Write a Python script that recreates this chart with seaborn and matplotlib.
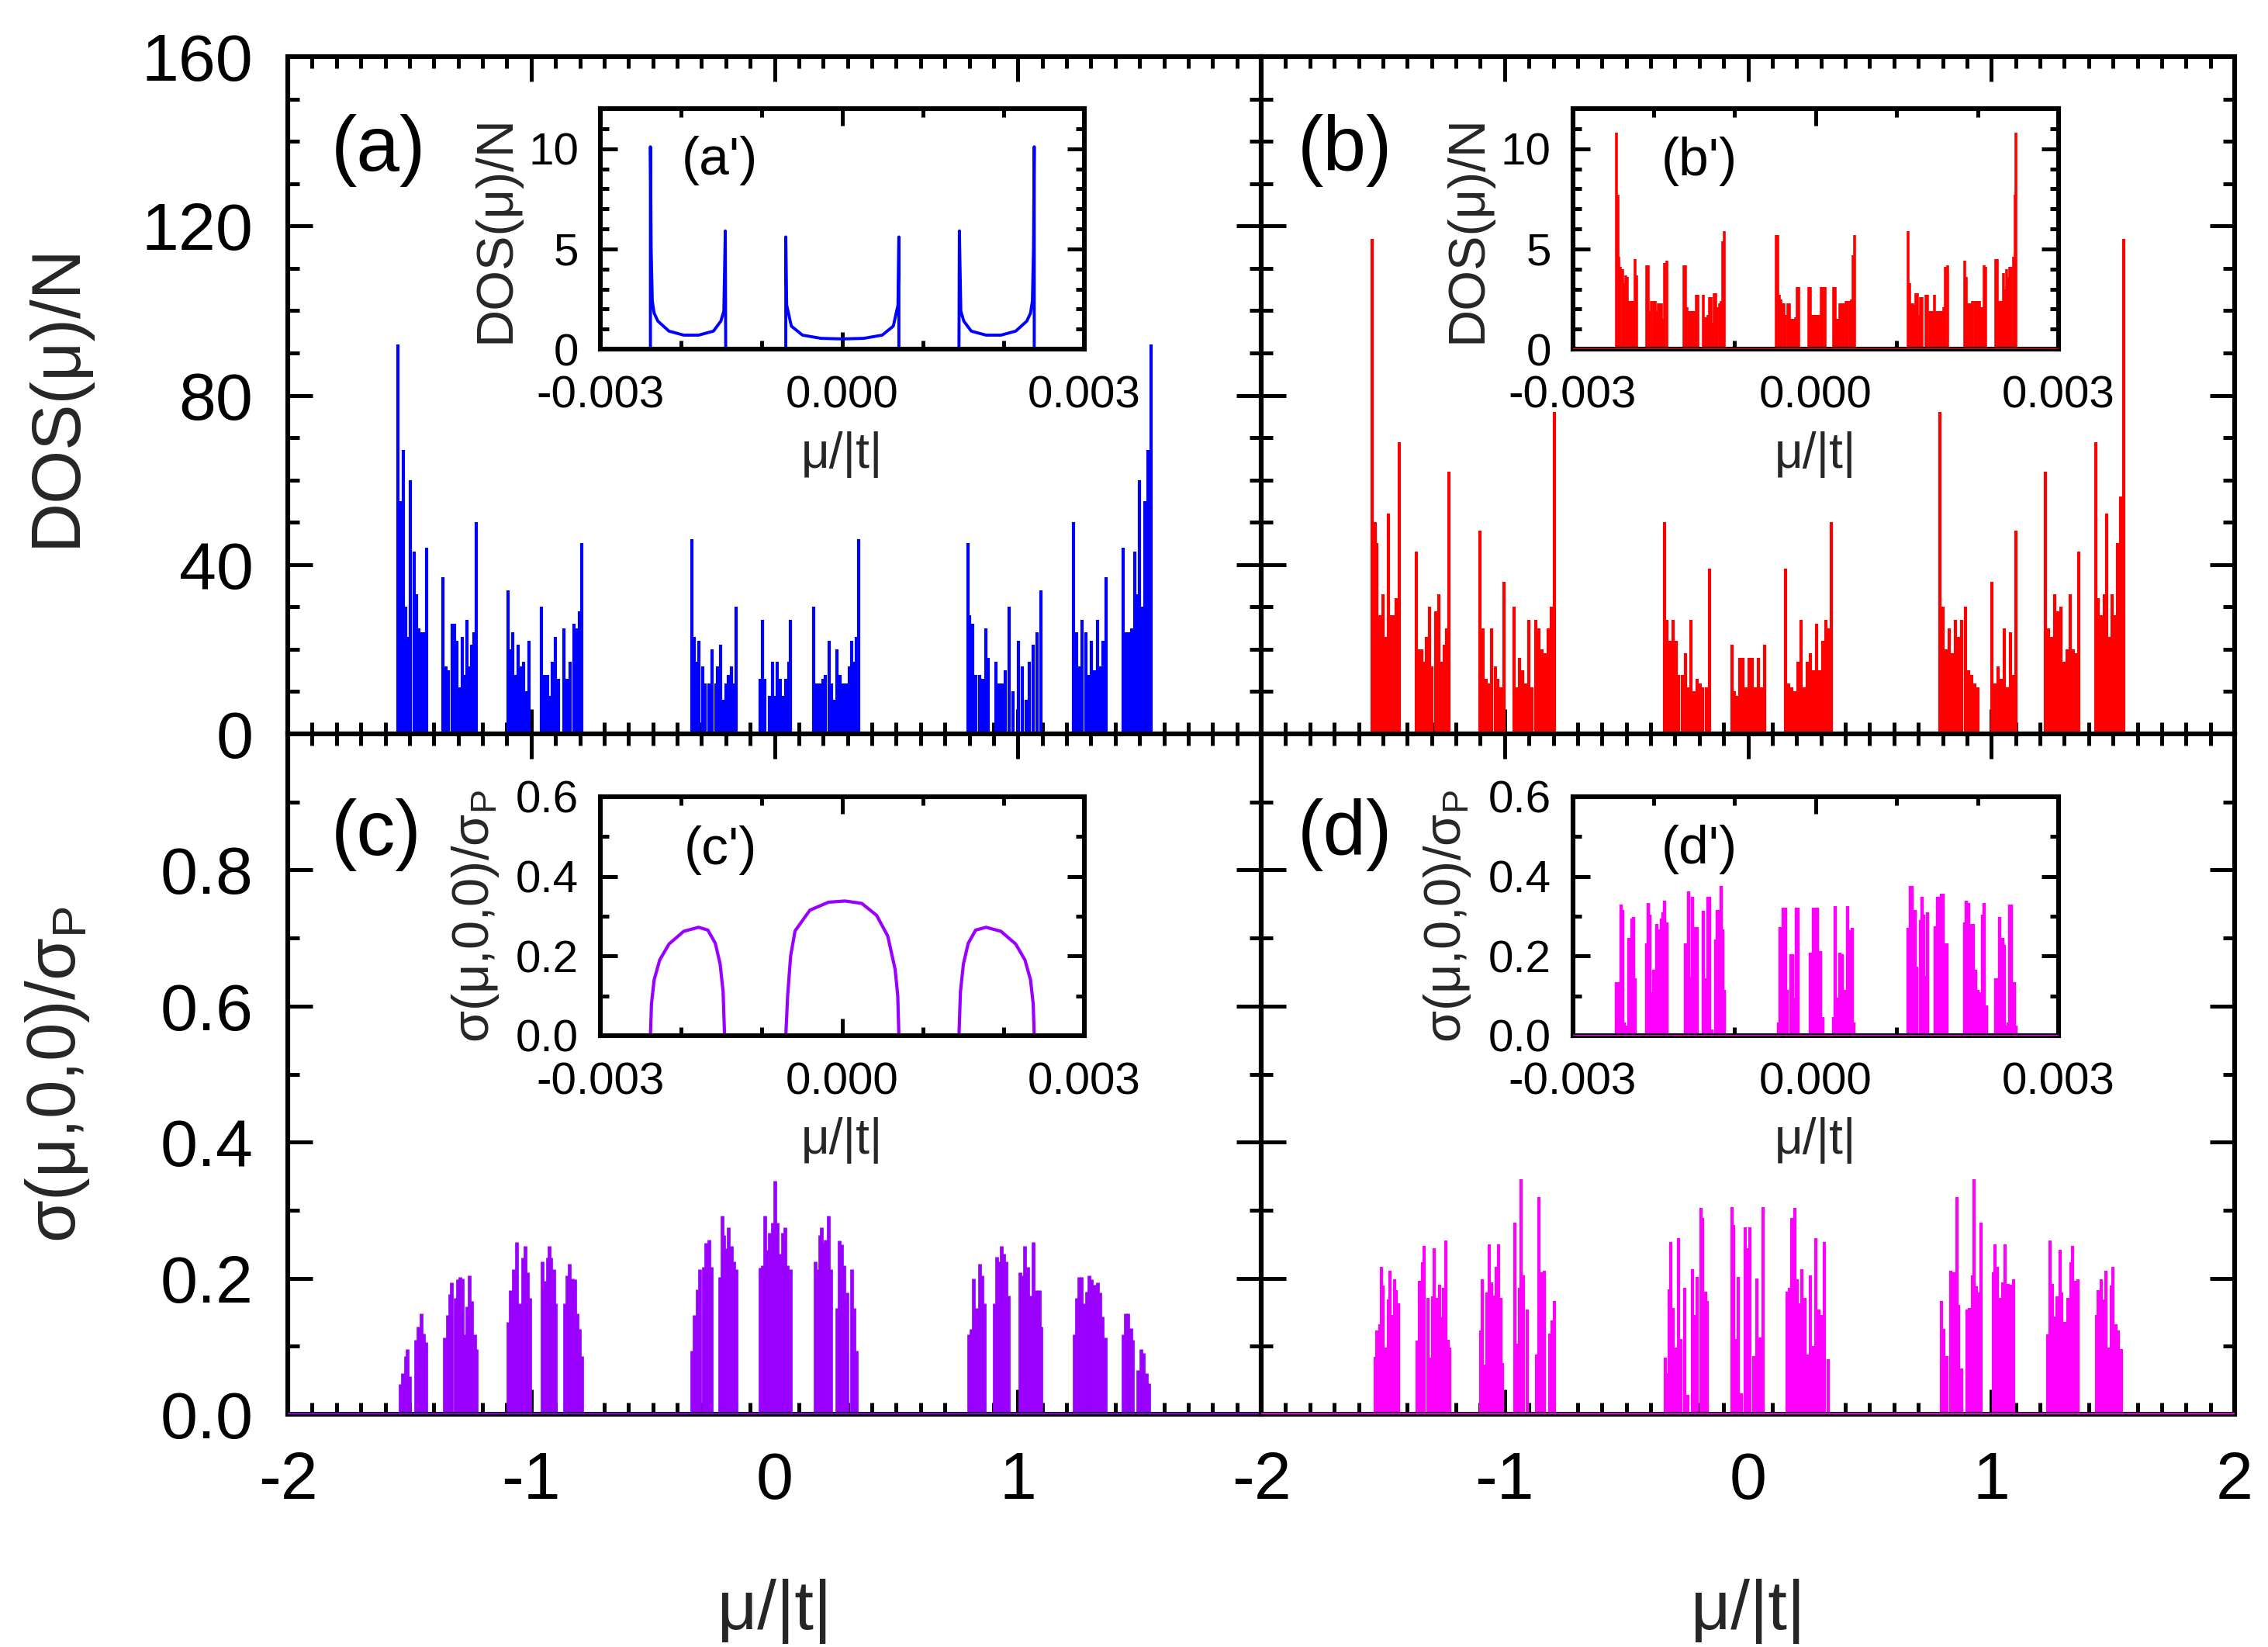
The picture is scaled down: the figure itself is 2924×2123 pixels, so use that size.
import numpy as np
import pandas as pd
import matplotlib
matplotlib.use("Agg")
import matplotlib.pyplot as plt
import seaborn as sns
from matplotlib.ticker import MultipleLocator, FixedLocator

# ---------------- data ----------------
# (a) DOS(mu)/N spikes, main panel
a_mu = [-1.546,-1.537,-1.524,-1.516,-1.508,-1.495,-1.482,-1.470,-1.461,-1.453,-1.440,-1.430,
        -1.362,-1.351,-1.339,-1.326,-1.316,-1.305,-1.297,-1.284,-1.275,-1.265,-1.254,-1.246,-1.235,-1.225,
        -1.096,-1.086,-1.077,-1.064,-1.052,-1.041,-1.031,-1.018,-1.008,
        -0.957,-0.946,-0.934,-0.923,-0.913,-0.900,-0.887,-0.864,-0.853,-0.841,-0.824,-0.811,-0.803,-0.792,
        -0.339,-0.330,-0.322,-0.311,-0.296,-0.286,-0.271,-0.256,-0.242,-0.233,-0.223,-0.212,-0.199,-0.191,-0.176,-0.166,-0.157,
        -0.060,-0.050,-0.039,-0.022,-0.009,-0.001,0.012,0.024,0.035,0.047,0.058,0.066,
        0.161,0.172,0.185,0.199,0.210,0.223,0.235,0.246,0.258,0.269,0.282,0.294,0.307,0.318,0.328,0.337,0.345,
        0.794,0.801,0.813,0.826,0.843,0.856,0.868,0.879,
        0.910,0.923,0.936,0.948,0.963,0.980,1.003,1.018,1.033,1.046,1.062,1.079,1.096,
        1.229,1.240,1.252,1.265,1.278,1.290,1.303,1.316,1.328,1.341,1.351,1.362,
        1.434,1.444,1.455,1.468,1.480,1.491,1.501,1.512,1.522,1.533,1.546]
a_dos = [92,55,67,30,23,60,43,33,25,24,24,44,
         37,16,15,26,26,22,11,23,14,27,16,21,24,50,
         34,20,24,14,21,16,17,10,22,
         30,14,14,9,17,23,13,25,13,17,26,25,29,45,
         46,23,17,22,16,12,12,20,12,16,21,8,12,14,16,12,30,
         13,27,13,9,17,9,17,13,9,13,17,27,
         30,12,12,13,14,22,12,8,20,14,12,12,16,22,17,23,46,
         45,28,26,14,14,13,25,18,
         17,12,12,15,30,10,22,16,8,17,21,24,34,
         50,24,16,27,24,14,22,15,27,16,22,37,
         44,24,24,25,43,33,60,30,55,67,92]

# (b) DOS(mu)/N spikes, main panel
b_mu = [-1.543,-1.533,-1.524,-1.512,-1.499,-1.489,-1.478,-1.467,-1.457,-1.444,-1.434,
        -1.362,-1.351,-1.341,-1.330,-1.320,-1.309,-1.299,-1.284,-1.271,-1.259,-1.248,-1.238,-1.229,
        -1.100,-1.090,-1.077,-1.064,-1.052,-1.039,-1.027,-1.016,-1.003,
        -0.961,-0.951,-0.938,-0.925,-0.913,-0.900,-0.887,-0.872,-0.860,-0.845,-0.835,-0.820,-0.807,-0.794,
        -0.343,-0.332,-0.320,-0.309,-0.296,-0.284,-0.271,-0.258,-0.246,-0.235,-0.223,-0.210,-0.197,-0.187,-0.172,-0.159,
        -0.066,-0.056,-0.045,-0.033,-0.020,-0.007,0.005,0.018,0.031,0.043,0.056,0.069,
        0.155,0.168,0.180,0.193,0.206,0.218,0.231,0.244,0.256,0.269,0.282,0.294,0.307,0.320,0.332,0.341,
        0.790,0.801,0.813,0.826,0.839,0.851,0.864,0.879,0.894,0.906,0.919,0.932,0.944,
        1.003,1.016,1.029,1.041,1.054,1.067,1.079,1.092,1.100,
        1.223,1.235,1.248,1.261,1.273,1.286,1.299,1.311,1.324,1.337,1.349,1.358,
        1.430,1.438,1.451,1.463,1.474,1.484,1.495,1.505,1.518,1.531,1.543]
b_dos = [117,50,45,28,33,23,52,28,28,32,69,
         43,20,20,17,23,30,16,29,33,17,21,25,62,
         48,25,13,12,25,16,13,11,36,
         30,11,18,15,12,27,11,27,25,20,19,25,30,76,
         50,27,22,27,22,14,14,19,11,27,10,13,12,11,11,39,
         21,10,9,18,18,11,18,18,11,18,11,21,
         39,12,11,10,17,27,11,17,19,15,26,15,22,27,25,50,
         76,30,20,25,19,27,23,27,30,15,14,12,11,
         36,12,16,13,25,11,24,14,48,
         62,25,23,33,29,30,17,20,33,20,19,43,
         69,32,28,33,52,23,33,28,45,56,117]

# (c) sigma(mu,0,0)/sigma_P spikes, main panel
c_mu = [-1.537,-1.527,-1.516,-1.508,-1.499,-1.474,-1.465,-1.453,-1.442,-1.432,
        -1.356,-1.345,-1.335,-1.328,-1.313,-1.303,-1.292,-1.284,-1.273,-1.265,-1.254,-1.244,-1.233,-1.225,
        -1.094,-1.086,-1.073,-1.060,-1.048,-1.035,-1.024,-1.014,-1.005,
        -0.955,-0.944,-0.934,-0.927,-0.919,-0.908,-0.900,
        -0.862,-0.853,-0.843,-0.832,-0.822,-0.811,-0.801,-0.792,
        -0.339,-0.330,-0.318,-0.309,-0.292,-0.282,-0.271,-0.261,-0.225,-0.216,-0.208,-0.199,-0.189,-0.178,-0.168,-0.159,
        -0.060,-0.050,-0.039,-0.031,-0.022,-0.009,0.001,0.012,0.024,0.033,0.043,0.054,0.064,
        0.166,0.174,0.185,0.193,0.202,0.210,0.220,0.231,0.258,0.265,0.275,0.286,0.299,0.318,0.328,0.337,
        0.799,0.807,0.818,0.830,0.843,0.853,0.862,
        0.904,0.913,0.923,0.932,0.942,0.951,0.961,
        1.008,1.018,1.029,1.039,1.052,1.062,1.075,1.088,1.096,
        1.231,1.240,1.250,1.261,1.273,1.282,1.292,1.303,1.316,1.328,1.337,1.345,1.358,
        1.434,1.442,1.453,1.463,1.472,1.493,1.505,1.516,1.527,1.539]
c_sig = [0.044,0.060,0.086,0.096,0.056,0.109,0.129,0.148,0.119,0.106,
         0.113,0.146,0.177,0.194,0.171,0.198,0.202,0.200,0.117,0.159,0.204,0.167,0.117,0.096,
         0.136,0.182,0.213,0.253,0.163,0.230,0.248,0.209,0.171,
         0.225,0.196,0.230,0.248,0.230,0.213,0.163,
         0.163,0.204,0.221,0.200,0.198,0.148,0.125,0.086,
         0.094,0.146,0.184,0.213,0.217,0.252,0.257,0.217,0.202,0.292,0.263,0.244,0.275,0.248,0.225,0.213,
         0.215,0.219,0.292,0.242,0.267,0.282,0.343,0.282,0.236,0.267,0.275,0.219,0.213,
         0.225,0.213,0.263,0.275,0.252,0.257,0.292,0.213,0.156,0.255,0.250,0.219,0.179,0.213,0.156,0.094,
         0.117,0.125,0.200,0.156,0.221,0.204,0.163,
         0.163,0.232,0.225,0.248,0.236,0.225,0.175,
         0.209,0.204,0.248,0.217,0.175,0.253,0.182,0.182,0.129,
         0.117,0.171,0.202,0.202,0.163,0.180,0.204,0.198,0.190,0.194,0.179,0.144,0.113,
         0.117,0.148,0.148,0.127,0.109,0.065,0.096,0.090,0.060,0.046]

# (d) sigma(mu,0,0)/sigma_P spikes, main panel
d_mu = [-1.533,-1.524,-1.514,-1.505,-1.499,-1.487,-1.478,-1.470,-1.461,-1.453,-1.444,-1.436,
        -1.358,-1.351,-1.343,-1.337,-1.330,-1.316,-1.305,-1.297,-1.288,-1.278,-1.267,-1.259,-1.250,-1.242,-1.233,-1.227,
        -1.098,-1.092,-1.081,-1.073,-1.062,-1.054,-1.043,-1.033,-1.024,-1.016,-1.008,
        -0.957,-0.948,-0.940,-0.932,-0.923,-0.908,-0.870,-0.860,-0.851,-0.843,-0.837,-0.816,-0.805,-0.794,
        -0.341,-0.332,-0.324,-0.318,-0.307,-0.296,-0.286,-0.275,-0.261,-0.246,-0.227,-0.216,-0.208,-0.193,-0.185,-0.174,-0.166,
        -0.066,-0.060,-0.052,-0.041,-0.028,-0.012,-0.001,0.009,0.024,0.037,0.050,0.062,
        0.161,0.170,0.180,0.193,0.202,0.210,0.220,0.233,0.246,0.258,0.269,0.280,0.290,0.305,0.315,0.330,
        0.794,0.805,0.818,0.834,0.845,0.858,0.866,0.879,0.900,0.910,0.923,0.929,0.938,0.948,0.957,
        1.010,1.016,1.024,1.037,1.048,1.058,1.069,1.079,1.090,
        1.231,1.242,1.252,1.261,1.271,1.282,1.290,1.303,1.316,1.326,1.335,1.345,1.356,
        1.432,1.438,1.451,1.459,1.470,1.480,1.493,1.501,1.512,1.522,1.535]
d_sig = [0.084,0.123,0.132,0.217,0.189,0.098,0.169,0.211,0.146,0.198,0.182,0.163,
         0.108,0.196,0.138,0.223,0.248,0.171,0.083,0.173,0.244,0.171,0.190,0.142,0.186,0.255,0.109,0.098,
         0.123,0.198,0.073,0.179,0.250,0.194,0.175,0.217,0.250,0.171,0.075,
         0.282,0.104,0.186,0.346,0.204,0.154,0.088,0.319,0.209,0.088,0.211,0.119,0.138,0.167,
         0.083,0.061,0.184,0.253,0.156,0.098,0.259,0.111,0.186,0.029,0.213,0.146,0.202,0.303,0.288,0.180,0.167,
         0.305,0.278,0.111,0.202,0.031,0.275,0.244,0.275,0.086,0.200,0.113,0.305,
         0.180,0.186,0.288,0.303,0.198,0.163,0.213,0.171,0.088,0.204,0.100,0.259,0.154,0.146,0.253,0.081,
         0.167,0.125,0.086,0.211,0.209,0.319,0.161,0.067,0.154,0.156,0.204,0.346,0.188,0.179,0.282,
         0.209,0.250,0.217,0.171,0.194,0.250,0.192,0.190,0.198,
         0.117,0.255,0.192,0.144,0.173,0.242,0.179,0.136,0.171,0.223,0.248,0.196,0.198,
         0.146,0.182,0.198,0.169,0.211,0.098,0.189,0.217,0.132,0.123,0.096]

# insets: mu in units of 1e-3
ap_mu_e3 = [-3.0,-2.379,-2.379,-2.370,-2.356,-2.333,-2.287,-2.149,-1.966,-1.782,-1.598,-1.506,-1.469,-1.451,-1.446,
            -0.701,-0.701,-0.690,-0.632,-0.494,-0.264,0.0,0.264,0.494,0.632,0.690,0.701,0.701,
            1.446,1.451,1.469,1.506,1.598,1.782,1.966,2.149,2.287,2.333,2.356,2.370,2.379,2.379,3.0]
ap_dos = [0,0,10.1,5.0,2.4,1.8,1.4,0.9,0.7,0.7,0.9,1.4,1.9,5.9,0,
          0,5.6,2.2,1.15,0.7,0.54,0.51,0.54,0.7,1.15,2.2,5.6,0,
          0,5.9,1.9,1.4,0.9,0.7,0.7,0.9,1.4,1.8,2.4,5.0,10.1,0,0]

bp_mu_e3 = [-2.463,-2.443,-2.427,-2.407,-2.383,-2.367,-2.347,-2.327,-2.307,-2.287,-2.267,-2.248,-2.228,-2.208,
            -2.088,-2.068,-2.044,-2.024,-2.004,-1.984,-1.964,-1.944,-1.924,-1.904,-1.884,-1.864,-1.836,
            -1.629,-1.609,-1.589,-1.569,-1.549,-1.529,-1.509,-1.489,-1.469,-1.449,
            -1.389,-1.369,-1.349,-1.329,-1.309,-1.289,-1.269,-1.250,-1.230,-1.210,-1.190,-1.170,-1.150,-1.130,
            -0.487,-0.467,-0.447,-0.427,-0.407,-0.387,-0.367,-0.347,-0.327,-0.307,-0.287,-0.267,-0.248,-0.228,-0.208,
            -0.088,-0.068,-0.048,-0.028,-0.008,0.012,0.032,0.052,0.072,0.092,0.112,
            0.220,0.240,0.259,0.279,0.299,0.319,0.339,0.359,0.379,0.399,0.419,0.439,0.459,0.479,
            1.142,1.158,1.178,1.198,1.218,1.238,1.257,1.277,1.297,1.317,
            1.365,1.385,1.405,1.425,1.445,1.465,1.485,1.505,1.525,1.545,1.565,1.585,1.605,1.625,
            1.840,1.860,1.880,1.900,1.920,1.940,1.960,1.980,2.000,2.020,2.040,2.060,2.080,2.100,
            2.220,2.240,2.259,2.279,2.299,2.319,2.339,2.359,2.379,2.399,2.419,2.439,2.459,2.475]
bp_dos = [10.8,7.7,4.6,4.1,4.0,3.3,3.7,3.6,2.4,2.4,2.4,2.4,4.5,3.7,
          4.2,4.2,1.9,2.4,2.4,2.4,1.9,2.3,2.3,2.3,1.5,4.3,4.4,
          4.2,4.2,2.1,1.9,1.9,1.9,1.9,1.9,2.7,2.7,
          2.7,1.6,1.6,1.7,2.6,2.6,1.3,2.8,2.8,2.1,2.3,2.4,5.4,5.9,
          5.7,5.7,2.7,2.5,2.3,2.3,1.7,2.3,2.3,1.5,1.5,1.5,1.6,3.1,3.1,
          3.1,3.1,1.7,1.7,1.7,1.7,1.7,1.7,3.1,3.1,3.1,
          3.1,3.1,1.5,1.5,2.3,2.3,2.3,2.3,2.4,2.4,2.4,2.5,4.7,5.7,
          5.9,3.3,2.3,2.3,2.2,2.8,2.8,1.7,2.6,2.6,
          2.7,2.7,1.9,1.9,1.9,2.7,1.9,1.9,1.9,1.9,1.9,2.1,4.1,4.2,
          4.4,3.6,2.3,2.3,2.3,2.4,2.4,2.4,2.4,2.4,2.1,2.1,4.2,4.1,
          4.5,4.5,2.4,2.4,2.4,3.8,3.0,4.0,3.6,4.1,4.1,4.6,7.7,10.8]

cp_mu_e3 = [-3.0,-2.379,-2.366,-2.333,-2.264,-2.149,-1.966,-1.782,-1.667,-1.575,-1.515,-1.478,-1.460,
            -0.701,-0.678,-0.641,-0.586,-0.402,-0.172,0.034,0.241,0.425,0.563,0.655,0.687,0.701,
            1.446,1.464,1.501,1.561,1.653,1.782,1.966,2.149,2.264,2.333,2.366,2.379,3.0]
cp_sig = [0,0,0.08,0.14,0.19,0.23,0.262,0.272,0.265,0.232,0.18,0.11,0,
          0,0.1,0.2,0.263,0.315,0.335,0.338,0.332,0.302,0.25,0.166,0.1,0,
          0,0.11,0.18,0.232,0.265,0.272,0.262,0.23,0.19,0.14,0.08,0,0]

dp_mu_e3 = [-2.463,-2.443,-2.423,-2.403,-2.383,-2.363,-2.343,-2.323,-2.307,-2.287,-2.267,-2.248,-2.228,
            -2.088,-2.068,-2.044,-2.024,-1.996,-1.964,-1.944,-1.924,-1.904,-1.884,-1.864,-1.836,
            -1.609,-1.589,-1.569,-1.549,-1.517,-1.485,-1.461,
            -1.389,-1.369,-1.349,-1.329,-1.309,-1.277,-1.238,-1.218,-1.198,-1.170,-1.150,-1.130,
            -0.459,-0.439,-0.419,-0.399,-0.375,-0.355,-0.307,-0.287,-0.267,-0.240,-0.220,
            -0.068,-0.048,-0.024,0.000,0.024,0.044,0.064,0.084,
            0.220,0.240,0.259,0.279,0.303,0.323,0.343,0.367,0.391,0.411,0.431,0.455,0.475,
            1.146,1.166,1.186,1.206,1.226,1.246,1.297,1.317,1.337,1.357,1.377,
            1.473,1.489,1.509,1.529,1.549,1.569,1.589,1.617,
            1.844,1.864,1.884,1.904,1.924,1.944,1.976,2.004,2.036,2.056,2.076,2.104,
            2.228,2.248,2.267,2.287,2.307,2.327,2.355,2.375,2.395,2.415,2.435,2.455,2.475]
dp_sig = [0.134,0.134,0.029,0.329,0.316,0.033,0.026,0.026,0.245,0.245,0.294,0.297,0.144,
          0.232,0.333,0.303,0.108,0.166,0.281,0.007,0.267,0.294,0.310,0.338,0.284,
          0.232,0.052,0.362,0.147,0.349,0.272,0.272,
          0.313,0.144,0.144,0.349,0.349,0.016,0.241,0.316,0.316,0.375,0.267,0.114,
          0.033,0.272,0.248,0.321,0.321,0.114,0.205,0.205,0.095,0.321,0.321,
          0.209,0.209,0.321,0.321,0.321,0.134,0.212,0.046,
          0.046,0.326,0.095,0.059,0.209,0.205,0.007,0.114,0.326,0.020,0.264,0.271,0.033,
          0.271,0.375,0.375,0.316,0.316,0.173,0.290,0.349,0.303,0.150,0.310,
          0.274,0.219,0.349,0.349,0.356,0.356,0.232,0.232,
          0.284,0.338,0.333,0.267,0.281,0.281,0.166,0.114,0.108,0.303,0.333,0.075,
          0.144,0.144,0.297,0.049,0.245,0.228,0.026,0.033,0.329,0.329,0.127,0.134,0.026]

main_xticks = [-2, -1, 0, 1, 2]
dos_yticks = [0, 40, 80, 120, 160]
sig_yticks = [0.0, 0.2, 0.4, 0.6, 0.8, 1.0]
inset_xticks = [-0.003, 0.0, 0.003]
inset_xticklabels = ["-0.003", "0.000", "0.003"]
inset_dos_yticks = [0, 5, 10]
inset_sig_yticks = [0.0, 0.2, 0.4, 0.6]

BLUE, RED, PURPLE, MAGENTA = "#0000FF", "#FF0000", "#9900FF", "#FF00FF"

# ---------------- style ----------------
sns.set_theme(style="ticks")
plt.rcParams["font.family"] = ["Liberation Sans", "DejaVu Sans"]
plt.rcParams["mathtext.fontset"] = "custom"
plt.rcParams["mathtext.rm"] = "Liberation Sans"
plt.rcParams["mathtext.it"] = "Liberation Sans:italic"
plt.rcParams["mathtext.bf"] = "Liberation Sans:bold"
plt.rcParams["axes.unicode_minus"] = False
plt.rcParams["axes.facecolor"] = "white"
plt.rcParams["figure.facecolor"] = "white"

SIGLAB = "σ(μ,0,0)/σ$_\\mathrm{P}$"
DOSLAB = "DOS(μ)/N"
MULAB = "μ/|t|"


def style(ax, maj, mn, ls, xpad, ypad, sw=2.2, tw=1.8):
    for s in ax.spines.values():
        s.set_linewidth(sw)
        s.set_edgecolor("black")
    ax.tick_params(which="both", direction="in", top=True, right=True, bottom=True, left=True,
                   width=tw, color="black", labelcolor="black", labelsize=ls)
    ax.tick_params(which="major", length=maj)
    ax.tick_params(which="minor", length=mn)
    ax.tick_params(axis="x", which="both", pad=xpad)
    ax.tick_params(axis="y", which="both", pad=ypad)
    ax.grid(False)


fig = plt.figure(figsize=(14.62, 10.615), dpi=200)
W = 0.4292
axa = fig.add_axes([0.1269, 0.5544, W, 0.4112])
axb = fig.add_axes([0.5561, 0.5544, W, 0.4112])
axc = fig.add_axes([0.1269, 0.1413, W, 0.4131])
axd = fig.add_axes([0.5561, 0.1413, W, 0.4131])

panels = [(axa, a_mu, a_dos, BLUE, "(a)", 0.044, 0.862, 1.5),
          (axb, b_mu, b_dos, RED, "(b)", 0.037, 0.862, 1.5),
          (axc, c_mu, c_sig, PURPLE, "(c)", 0.044, 0.852, 1.7),
          (axd, d_mu, d_sig, MAGENTA, "(d)", 0.037, 0.852, 1.5)]

for ax, mu, val, col, lab, lx, ly, lw in panels:
    df = pd.DataFrame({"mu": mu, "v": val})
    ax.vlines(df["mu"], 0, df["v"], color=col, lw=lw, zorder=2)
    ax.axhline(0, color=col, lw=1.3, zorder=3)
    ax.set_xlim(-2, 2)
    ax.xaxis.set_major_locator(FixedLocator(main_xticks))
    ax.xaxis.set_minor_locator(MultipleLocator(0.1))
    style(ax, 11.5, 5.4, 31, 17, 16)
    ax.text(lx, ly, lab, transform=ax.transAxes, ha="left", va="center", fontsize=36, color="black")
    ax.set_xlabel("")
    ax.set_ylabel("")

for ax in (axa, axb):
    ax.set_ylim(0, 160)
    ax.yaxis.set_major_locator(FixedLocator(dos_yticks))
    ax.yaxis.set_minor_locator(MultipleLocator(10))
    ax.set_xticklabels([])
for ax in (axc, axd):
    ax.set_ylim(0, 1.0)
    ax.yaxis.set_major_locator(FixedLocator(sig_yticks))
    ax.yaxis.set_minor_locator(MultipleLocator(0.1))
    ax.set_xlabel(MULAB, fontsize=32, va="center")
    ax.xaxis.set_label_coords(0.5, -0.29)

axa.set_yticklabels([str(v) for v in dos_yticks])
axb.set_yticklabels([])
axc.set_yticklabels(["0.0", "0.2", "0.4", "0.6", "0.8", ""])
axd.set_yticklabels([])
axc.set_xticklabels(["-2", "-1", "0", "1", ""])
axd.set_xticklabels(["-2", "-1", "0", "1", "2"])

axa.set_ylabel(DOSLAB, fontsize=32, va="center")
axa.yaxis.set_label_coords(-0.237, 0.5)
axc.set_ylabel(SIGLAB, fontsize=32, va="center")
axc.yaxis.set_label_coords(-0.237, 0.5)

# ---------------- insets ----------------
iap = fig.add_axes([0.2647, 0.788, 0.2134, 0.146])
ibp = fig.add_axes([0.6934, 0.788, 0.2143, 0.146])
icp = fig.add_axes([0.2647, 0.3712, 0.2134, 0.1451])
idp = fig.add_axes([0.6934, 0.3712, 0.2143, 0.1451])

ap_df = pd.DataFrame({"mu": np.array(ap_mu_e3) * 1e-3, "v": ap_dos})
cp_df = pd.DataFrame({"mu": np.array(cp_mu_e3) * 1e-3, "v": cp_sig})
bp_df = pd.DataFrame({"mu": np.array(bp_mu_e3) * 1e-3, "v": bp_dos})
dp_df = pd.DataFrame({"mu": np.array(dp_mu_e3) * 1e-3, "v": dp_sig})

sns.lineplot(data=ap_df, x="mu", y="v", ax=iap, color=BLUE, lw=1.4, sort=False, estimator=None)
sns.lineplot(data=cp_df, x="mu", y="v", ax=icp, color=PURPLE, lw=1.5, sort=False, estimator=None)
ibp.vlines(bp_df["mu"], 0, bp_df["v"], color=RED, lw=1.3)
ibp.axhline(0, color=RED, lw=1.2, zorder=3)
idp.vlines(dp_df["mu"], 0, dp_df["v"], color=MAGENTA, lw=1.6)
idp.axhline(0, color=MAGENTA, lw=1.2, zorder=3)

insets = [(iap, "(a')", 0.168, 0.784, DOSLAB, -0.215),
          (ibp, "(b')", 0.183, 0.781, DOSLAB, -0.215),
          (icp, "(c')", 0.173, 0.776, SIGLAB, -0.258),
          (idp, "(d')", 0.183, 0.780, SIGLAB, -0.258)]
for ax, lab, lx, ly, ylab, ylx in insets:
    ax.set_facecolor("white")
    ax.set_xlim(-0.003, 0.003)
    ax.xaxis.set_major_locator(FixedLocator(inset_xticks))
    ax.xaxis.set_minor_locator(MultipleLocator(0.001))
    style(ax, 8, 4, 21, 12, 10)
    ax.set_xticklabels(inset_xticklabels)
    ax.set_xlabel(MULAB, fontsize=23, va="center")
    ax.xaxis.set_label_coords(0.5, -0.44)
    ax.set_ylabel(ylab, fontsize=24, va="center")
    ax.yaxis.set_label_coords(ylx, 0.5)
    ax.text(lx, ly, lab, transform=ax.transAxes, ha="left", va="center", fontsize=25, color="black")

for ax in (iap, ibp):
    ax.set_ylim(0, 12)
    ax.yaxis.set_major_locator(FixedLocator(inset_dos_yticks))
    ax.yaxis.set_minor_locator(MultipleLocator(1))
    ax.set_yticklabels([str(v) for v in inset_dos_yticks])
for ax in (icp, idp):
    ax.set_ylim(0, 0.6)
    ax.yaxis.set_major_locator(FixedLocator(inset_sig_yticks))
    ax.yaxis.set_minor_locator(MultipleLocator(0.1))
    ax.set_yticklabels(["0.0", "0.2", "0.4", "0.6"])

fig.savefig("out.png", dpi=200, facecolor="white")
